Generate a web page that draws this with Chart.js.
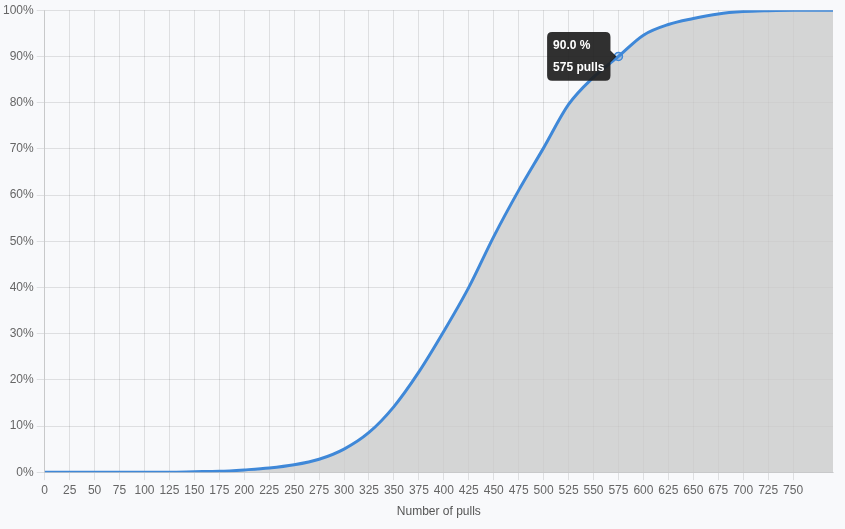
<!DOCTYPE html>
<html><head><meta charset="utf-8">
<script src="https://cdn.jsdelivr.net/npm/chart.js@4"></script>
<style>html,body{margin:0;background:#f8f9fb;}#w{width:845px;height:529px;}</style>
</head><body><div id="w"><canvas id="c"></canvas></div>
<script>
const pulls = [0,25,50,75,100,125,150,175,200,225,250,275,300,325,350,375,400,425,450,475,500,525,550,575,600,625,650,675,700,725,750,775,790];
const percent = [0,0,0,0,0,0,0.1,0.2,0.5,0.9,1.6,2.8,5,8.6,14.2,21.7,30.5,40,51,61,70.2,79.6,85.5,90,94.6,96.9,98.2,99.2,99.7,99.9,100,100,100];
const yTickLabels = ['0%','10%','20%','30%','40%','50%','60%','70%','80%','90%','100%'];
const highlightIndex = 23;
const data = pulls.map((x,i)=>({x, y: percent[i]}));
Chart.defaults.font.family = "'Liberation Sans', Arial, sans-serif";
Chart.defaults.font.size = 12;
Chart.defaults.color = '#666';
const chart = new Chart(document.getElementById('c'), {
  type: 'line',
  data: { datasets: [{
    data, borderColor: '#3f88d8', borderWidth: 3, backgroundColor: 'rgba(200,200,200,0.75)',
    fill: 'origin', tension: 0.4, cubicInterpolationMode: 'monotone',
    pointRadius: 0, pointHoverRadius: 4, pointHoverBorderWidth: 1.5,
    pointHoverBackgroundColor: 'rgba(63,136,216,0.3)', pointHoverBorderColor: '#3f88d8'
  }]},
  options: {
    responsive: true, maintainAspectRatio: false, animation: false,
    layout: { padding: { right: 12, top: 4, bottom: 6 } },
    plugins: {
      legend: { display: false },
      tooltip: {
        xAlign: 'right', yAlign: 'center', displayColors: false,
        backgroundColor: 'rgba(30,30,30,0.92)', caretSize: 6, cornerRadius: 5, padding: 6,
        titleFont: { weight: 'bold', size: 12 }, bodyFont: { weight: 'bold', size: 12 },
        titleMarginBottom: 8,
        callbacks: {
          title: items => items[0].parsed.y.toFixed(1) + ' %',
          label: item => item.parsed.x + ' pulls'
        }
      }
    },
    scales: {
      x: { type: 'linear', min: 0, max: 790,
        afterBuildTicks: axis => { axis.ticks = axis.ticks.filter(t => t.value % 25 === 0); },
        title: { display: true, text: 'Number of pulls', color: '#555' },
        ticks: { stepSize: 25, autoSkip: false, maxRotation: 0 },
        grid: { color: 'rgba(0,0,0,0.1)' } },
      y: { min: 0, max: 100,
        ticks: { stepSize: 10, callback: (v) => yTickLabels[Math.round(v/10)] },
        grid: { color: 'rgba(0,0,0,0.1)' } }
    }
  }
});
const el = chart.getDatasetMeta(0).data[highlightIndex];
chart.setActiveElements([{datasetIndex:0,index:highlightIndex}]);
chart.tooltip.setActiveElements([{datasetIndex:0,index:highlightIndex}], {x: el.x, y: el.y});
chart.update();
</script></body></html>
